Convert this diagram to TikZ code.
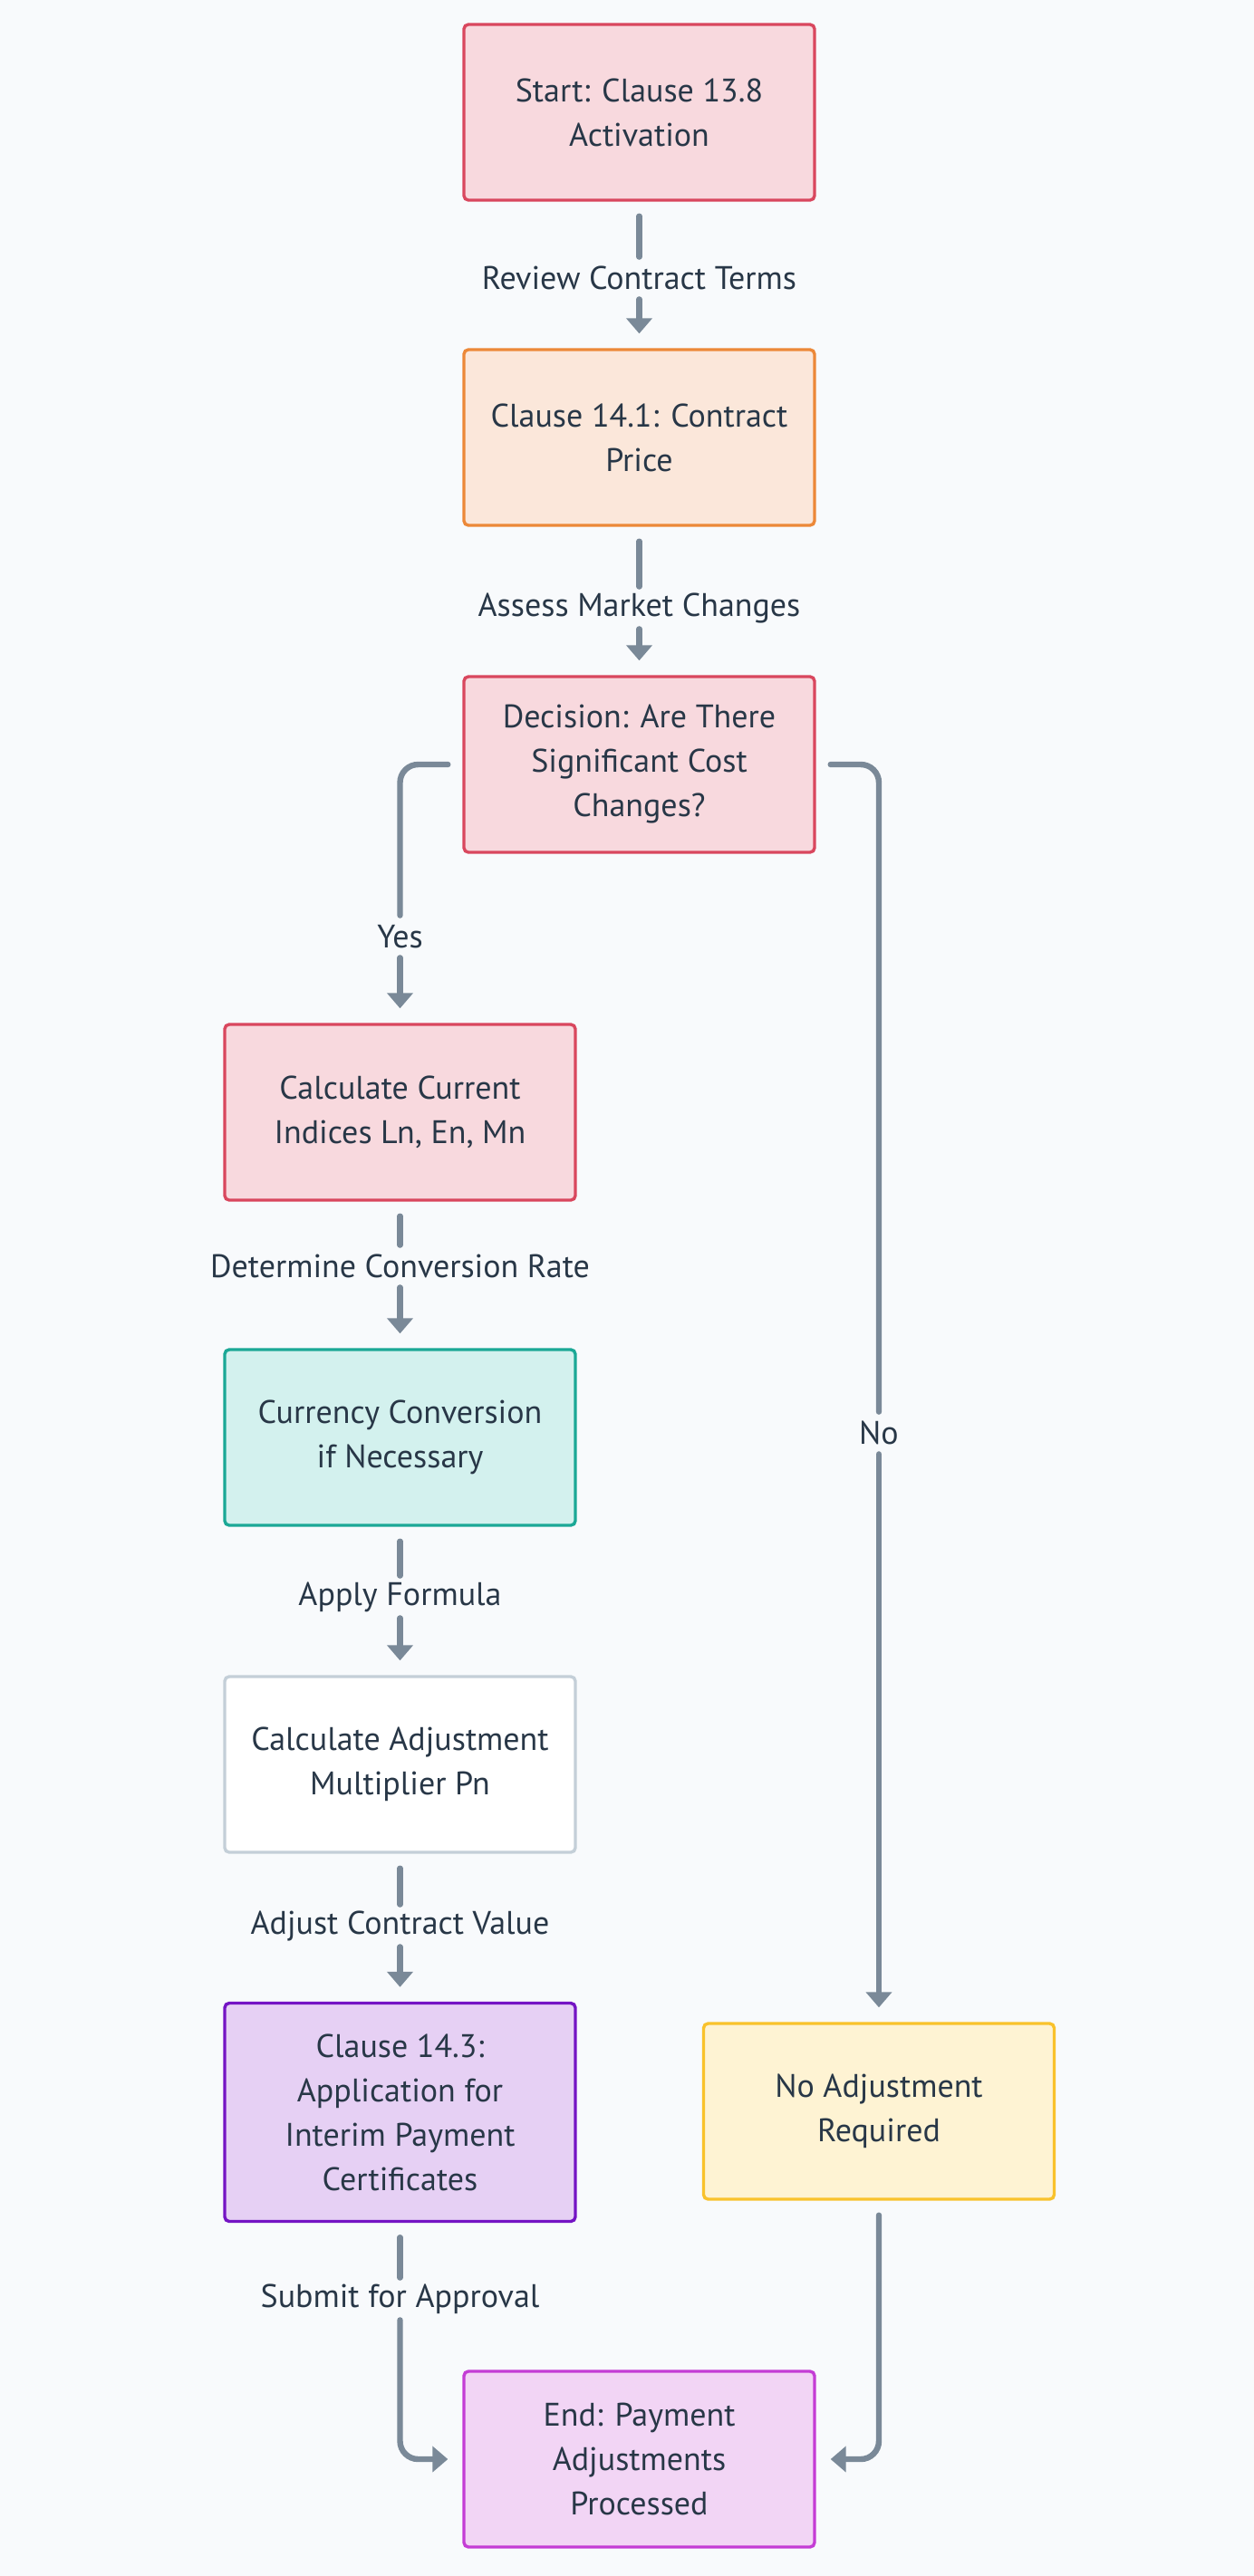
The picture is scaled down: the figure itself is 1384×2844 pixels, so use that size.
\documentclass[tikz,border=0pt]{standalone}
\usepackage{fontspec}
\setmainfont{PT Sans}
\usetikzlibrary{arrows.meta, positioning}
\definecolor{canvas}{HTML}{F8FAFC}
\definecolor{ink}{HTML}{283747}
\definecolor{flow}{HTML}{7A8998}
\definecolor{redfill}{HTML}{F8D9DE}
\definecolor{redline}{HTML}{D9475E}
\definecolor{orangefill}{HTML}{FBE7DA}
\definecolor{orangeline}{HTML}{EC8838}
\definecolor{tealfill}{HTML}{D3F1EE}
\definecolor{tealline}{HTML}{1BA896}
\definecolor{grayline}{HTML}{C4CFD8}
\definecolor{purplefill}{HTML}{E6D0F4}
\definecolor{purpleline}{HTML}{7414C4}
\definecolor{yellowfill}{HTML}{FEF3D3}
\definecolor{yellowline}{HTML}{F9C22C}
\definecolor{magentafill}{HTML}{F2D5F5}
\definecolor{magentaline}{HTML}{C43DD5}
\tikzstyle{stage} = [
  rectangle, draw=redline, fill=redfill, line width=1.7pt,
  rounded corners=2.5pt, minimum width=193.5pt, minimum height=97pt,
  align=center, text=ink, font=\fontsize{18}{24.5}\selectfont
]
\tikzstyle{flowlabel} = [
  text=ink, inner sep=0pt, minimum height=23pt,
  font=\fontsize{18}{24.5}\selectfont
]
\tikzstyle{line} = [draw=flow, line width=3.2pt, line cap=round]
\tikzstyle{arrow} = [line, -{Triangle[length=8.5pt, width=14pt]}, shorten >=8pt]
\tikzstyle{frombox} = [shorten <=8pt]

\begin{document}
\begin{tikzpicture}[x=0.5pt, y=-0.5pt]

  \fill[canvas] (0,0) rectangle (1384,2844);

  \node[stage] (start) at (705.5, 124) {Start: Clause 13.8\\Activation};
  \node[stage, fill=orangefill, draw=orangeline] (price) at (705.5, 483) {Clause 14.1: Contract\\Price};
  \node[stage] (decision) at (705.5, 844) {Decision: Are There\\Significant Cost\\Changes?};

  \node[stage] (indices) at (441.5, 1228) {Calculate Current\\Indices Ln, En, Mn};
  \node[stage, fill=tealfill, draw=tealline] (currency) at (441.5, 1587) {Currency Conversion\\if Necessary};
  \node[stage, fill=white, draw=grayline] (multiplier) at (441.5, 1948) {Calculate Adjustment\\Multiplier Pn};
  \node[stage, fill=purplefill, draw=purpleline, minimum height=120.5pt] (interim) at (441.5, 2332) {Clause 14.3:\\Application for\\Interim Payment\\Certificates};

  \node[stage, fill=yellowfill, draw=yellowline] (noadjust) at (970, 2331) {No Adjustment\\Required};
  \node[stage, fill=magentafill, draw=magentaline] (finish) at (705.5, 2715) {End: Payment\\Adjustments\\Processed};

  \node[flowlabel] (review) at (705.5, 307) {Review Contract Terms};
  \node[flowlabel] (assess) at (705.5, 671) {Assess Market Changes};
  \node[flowlabel] (yes) at (441.5, 1034) {Yes};
  \node[flowlabel] (no) at (970, 1582) {No};
  \node[flowlabel] (rate) at (441.5, 1398) {Determine Conversion Rate};
  \node[flowlabel] (formula) at (441.5, 1763) {Apply Formula};
  \node[flowlabel] (value) at (441.5, 2126) {Adjust Contract Value};
  \node[flowlabel] (submit) at (441.5, 2538) {Submit for Approval};

  \draw[line, frombox] (start) -- (review);
  \draw[arrow] (review) -- (price);
  \draw[line, frombox] (price) -- (assess);
  \draw[arrow] (assess) -- (decision);

  \draw[line, frombox, rounded corners=10pt] (decision.west) -| (yes.north);
  \draw[arrow] (yes) -- (indices);
  \draw[line, frombox, rounded corners=10pt] (decision.east) -| (no.north);
  \draw[arrow] (no) -- (noadjust);

  \draw[line, frombox] (indices) -- (rate);
  \draw[arrow] (rate) -- (currency);
  \draw[line, frombox] (currency) -- (formula);
  \draw[arrow] (formula) -- (multiplier);
  \draw[line, frombox] (multiplier) -- (value);
  \draw[arrow] (value) -- (interim);

  \draw[line, frombox] (interim) -- (submit);
  \draw[arrow, rounded corners=10pt] (submit.south) |- (finish.west);
  \draw[arrow, frombox, rounded corners=10pt] (noadjust.south) |- (finish.east);

\end{tikzpicture}
\end{document}
